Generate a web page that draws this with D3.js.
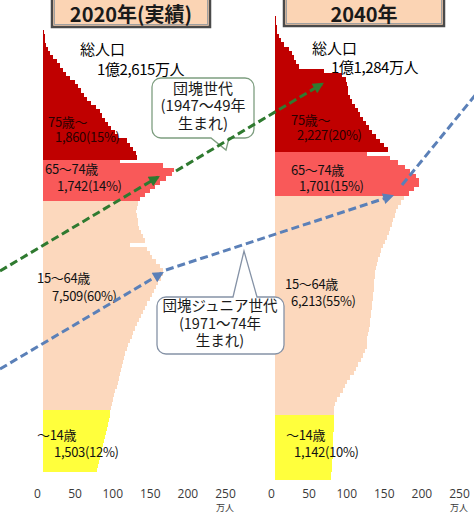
<!DOCTYPE html>
<html>
<head>
<meta charset="utf-8">
<script src="https://cdn.jsdelivr.net/npm/d3@7"></script>
<style>
  body { margin: 0; background: #fff; }
  svg text { font-family: "Noto Sans CJK JP", "Noto Sans", sans-serif; }
</style>
</head>
<body>
<div id="chart"></div>
<script>
// ages 0 .. 105 (last one = 105歳以上)
var ages = d3.range(0, 106);

// population by single age (万人)
var pop2020 = [
  72, 73, 74, 76, 77, 78, 80, 81, 82, 84, 85, 86, 88, 89, 89,
  90, 92, 93, 94, 96, 98, 100, 101, 102, 104, 105, 106, 108, 109, 112,
  113, 116, 118, 120, 122, 125, 128, 130, 133, 136, 138, 142, 145, 148, 150,
  153, 157, 160, 160, 156, 150, 145, 142, 138, 116, 136, 133, 130, 128, 126,
  126, 125, 124, 125, 126,
  129, 136, 142, 149, 156, 164, 172, 174, 160, 102,
  125, 124, 120, 116, 112, 100, 96, 91, 87, 83, 79, 76, 70, 64, 59,
  55, 50, 46, 42, 36, 30, 26, 22, 18, 13, 9, 6, 4, 3, 2, 1
];
var pop2040 = [
  75, 75, 76, 76, 76, 77, 77, 77, 77, 77, 77, 78, 78, 78, 78,
  78, 78, 80, 82, 86, 90, 93, 96, 100, 105, 108, 111, 114, 117, 120,
  122, 123, 123, 124, 125, 126, 126, 128, 128, 129, 129, 130, 130, 132, 132,
  132, 133, 133, 134, 136, 137, 140, 141, 144, 146, 149, 151, 153, 155, 157,
  159, 161, 164, 167, 172,
  178, 185, 191, 191, 188, 180, 173, 164, 153, 122,
  150, 145, 140, 134, 129, 125, 121, 117, 113, 110, 106, 102, 100, 97, 97,
  96, 94, 89, 65, 32, 28, 25, 22, 19, 12, 8, 5, 3, 2, 1, 1
];

var xTicks = [0, 50, 100, 150, 200, 250];
var groupNames = ["～14歳", "15～64歳", "65～74歳", "75歳～"];
var groupStart = [0, 15, 65, 75];
var groupText2020 = ["1,503(12%)", "7,509(60%)", "1,742(14%)", "1,860(15%)"];
var groupText2040 = ["1,142(10%)", "6,213(55%)", "1,701(15%)", "2,227(20%)"];
var totalText = ["1億2,615万人", "1億1,284万人"];
var titles = ["2020年(実績)", "2040年"];
var dankai = ["団塊世代", "(1947～49年", "生まれ)"];
var dankaiJr = ["団塊ジュニア世代", "(1971～74年", "生まれ)"];

var W = 474, H = 517;
var groupColors = ["#ffff3c", "#fcd8bd", "#f95959", "#c00000"];

var svg = d3.select("#chart").append("svg")
    .attr("width", W)
    .attr("height", H);

// arrow heads
var defs = svg.append("defs");
[["arrowG", "#2f7a30"], ["arrowB", "#5b80b8"]].forEach(function(m) {
  defs.append("marker")
      .attr("id", m[0])
      .attr("viewBox", "0 0 10 10")
      .attr("refX", 8).attr("refY", 5)
      .attr("markerWidth", 12).attr("markerHeight", 11)
      .attr("markerUnits", "userSpaceOnUse")
      .attr("orient", "auto")
    .append("path")
      .attr("d", "M0,0 L10,5 L0,10 z")
      .attr("fill", m[1]);
});

function groupOf(age) {
  return d3.bisectRight(groupStart, age) - 1;
}

function draw_pyramid(p) {
  var g = svg.append("g");

  var x = d3.scaleLinear()
      .domain([0, 250])
      .range([p.x0, p.x0 + 188]);

  // age 0 at the bottom
  var y = d3.scaleBand()
      .domain(ages)
      .range([p.bottom, p.top])
      .padding(0);

  g.selectAll("rect")
      .data(ages)
      .enter().append("rect")
      .attr("x", x(0))
      .attr("y", function(a) { return y(a); })
      .attr("width", function(a) { return x(p.data[a]) - x(0); })
      .attr("height", y.bandwidth() + 0.4)
      .attr("fill", function(a) { return groupColors[groupOf(a)]; })
      .attr("shape-rendering", "crispEdges");

  // group labels
  groupNames.forEach(function(name, i) {
    var pos = p.labelPos[i];
    g.append("text")
        .attr("x", pos[0]).attr("y", pos[1])
        .attr("font-size", 13)
        .attr("letter-spacing", -0.3)
        .attr("fill", i == 3 ? "#2a0000" : "#111")
        .text(name);
    g.append("text")
        .attr("x", pos[2]).attr("y", pos[3])
        .attr("font-size", 13)
        .attr("letter-spacing", -0.3)
        .attr("fill", i == 3 ? "#2a0000" : "#111")
        .text(p.groupText[i]);
  });

  // total
  g.append("text")
      .attr("x", p.totalPos[0]).attr("y", p.totalPos[1])
      .attr("font-size", 15)
      .text("総人口");
  g.append("text")
      .attr("x", p.totalPos[2]).attr("y", p.totalPos[3])
      .attr("font-size", 15)
      .attr("letter-spacing", -0.4)
      .text(p.total);

  // x axis
  var ax = g.append("g")
      .attr("transform", "translate(0,480)")
      .call(d3.axisBottom(x).tickValues(xTicks).tickSize(0).tickPadding(9));
  ax.select(".domain").remove();
  ax.selectAll(".tick text")
      .attr("dx", p.tickDx)
      .attr("font-size", 12)
      .attr("fill", "#3a3a3a")
      .style("font-family", "'Open Sans', sans-serif");
  g.append("text")
      .attr("x", x(250) + p.tickDx)
      .attr("y", 511)
      .attr("text-anchor", "middle")
      .attr("font-size", 9)
      .attr("fill", "#3a3a3a")
      .text("万人");

  // title box
  g.append("rect")
      .attr("x", p.titleBox[0]).attr("y", -3)
      .attr("width", p.titleBox[1] - p.titleBox[0])
      .attr("height", p.titleBox[2] + 3)
      .attr("fill", "#fbd4b4")
      .attr("stroke", "#4a4a4a")
      .attr("stroke-width", 2.5);
  g.append("rect")
      .attr("x", p.titleBox[0] + 2.5).attr("y", -3)
      .attr("width", p.titleBox[1] - p.titleBox[0] - 5)
      .attr("height", p.titleBox[2] + 0.5)
      .attr("fill", "none")
      .attr("stroke", "#a0a0a0")
      .attr("stroke-width", 1);
  g.append("text")
      .attr("x", (p.titleBox[0] + p.titleBox[1]) / 2)
      .attr("y", 22)
      .attr("text-anchor", "middle")
      .attr("font-size", 20)
      .attr("font-weight", "bold")
      .attr("fill", "#1a1a1a")
      .text(p.title);
}

draw_pyramid({
  data: pop2020, x0: 43, bottom: 472, top: 30, tickDx: -6,
  groupText: groupText2020, total: totalText[0], title: titles[0],
  labelPos: [[37, 440, 54, 457], [37, 283, 52, 301], [45, 174, 57, 191], [48, 127, 55, 142]],
  totalPos: [80, 55, 97, 75],
  titleBox: [52, 210, 27]
});
draw_pyramid({
  data: pop2040, x0: 275, bottom: 480, top: 16, tickDx: -4,
  groupText: groupText2040, total: totalText[1], title: titles[1],
  labelPos: [[286, 440, 294, 457], [285, 289, 291, 306], [291, 175, 299, 191], [291, 125, 297, 140]],
  totalPos: [312, 54, 331, 73],
  titleBox: [284, 444, 26]
});

// speech bubbles
function calloutPath(x, y, w, h, r, t, onTop) {
  var p = d3.path();
  p.moveTo(x + r, y);
  if (onTop) { p.lineTo(t[0], y); p.lineTo(t[2], t[3]); p.lineTo(t[1], y); }
  p.lineTo(x + w - r, y);
  p.arcTo(x + w, y, x + w, y + r, r);
  p.lineTo(x + w, y + h - r);
  p.arcTo(x + w, y + h, x + w - r, y + h, r);
  if (!onTop) { p.lineTo(t[1], y + h); p.lineTo(t[2], t[3]); p.lineTo(t[0], y + h); }
  p.lineTo(x + r, y + h);
  p.arcTo(x, y + h, x, y + h - r, r);
  p.lineTo(x, y + r);
  p.arcTo(x, y, x + r, y, r);
  p.closePath();
  return p.toString();
}

function callout(c) {
  svg.append("path")
      .attr("d", calloutPath(c.x, c.y, c.w, c.h, 9, c.tail, c.onTop))
      .attr("fill", "#fff")
      .attr("stroke", c.stroke)
      .attr("stroke-width", 1.3);
  c.lines.forEach(function(s, i) {
    svg.append("text")
        .attr("x", c.cx)
        .attr("y", c.base[i])
        .attr("text-anchor", "middle")
        .attr("font-size", c.fs)
        .attr("fill", "#1a1a1a")
        .text(s);
  });
}

callout({x: 152, y: 78, w: 102, h: 60, tail: [211, 229, 226, 150], onTop: false,
  stroke: "#7e9e80", lines: dankai, cx: 203, base: [94, 111, 129], fs: 15});
callout({x: 157, y: 297, w: 127, h: 57, tail: [233, 257, 244, 251], onTop: true,
  stroke: "#8592a6", lines: dankaiJr, cx: 220, base: [311, 329, 346], fs: 14.5});

// dashed arrows following the cohorts
var arrows = [
  {pts: [[0, 271], [158, 177]], color: "#2f7a30", head: "arrowG"},
  {pts: [[176, 171], [322, 84]], color: "#2f7a30", head: "arrowG"},
  {pts: [[0, 369], [162, 273]], color: "#5b80b8", head: "arrowB"},
  {pts: [[166, 270], [392, 196]], color: "#5b80b8", head: "arrowB"},
  {pts: [[402, 185], [490, 77]], color: "#5b80b8", head: null}
];
arrows.forEach(function(a) {
  var l = svg.append("line")
      .attr("x1", a.pts[0][0]).attr("y1", a.pts[0][1])
      .attr("x2", a.pts[1][0]).attr("y2", a.pts[1][1])
      .attr("stroke", a.color)
      .attr("stroke-width", 3)
      .attr("stroke-dasharray", "8,4");
  if (a.head) l.attr("marker-end", "url(#" + a.head + ")");
});
</script>
</body>
</html>
